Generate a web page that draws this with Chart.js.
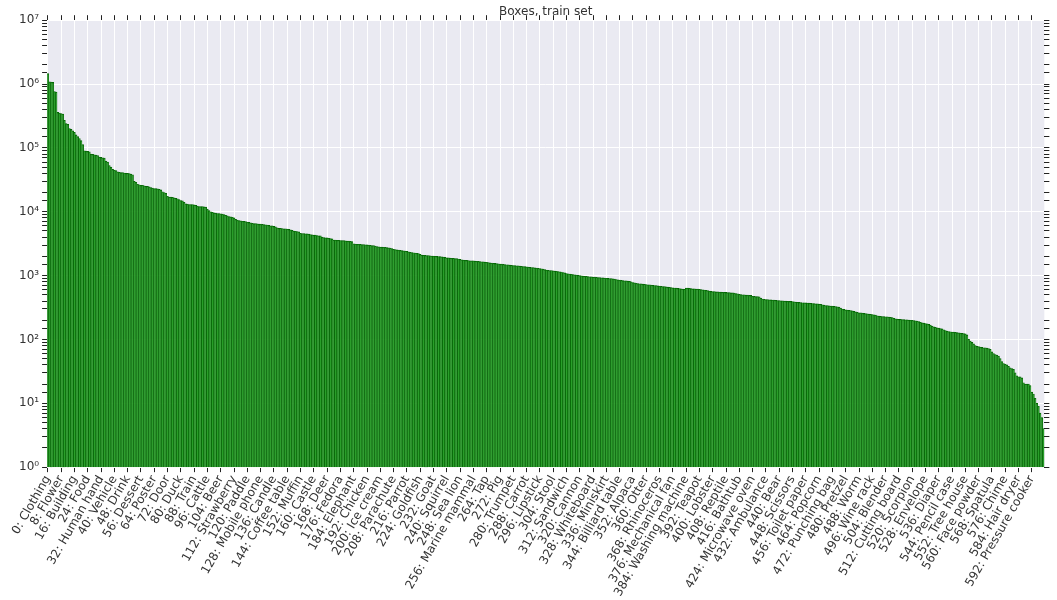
<!DOCTYPE html>
<html><head><meta charset="utf-8">
<script src="https://cdn.jsdelivr.net/npm/chart.js@4/dist/chart.umd.min.js"></script>
<style>html,body{margin:0;padding:0;background:#fff}#w{width:1057px;height:600px}</style>
</head><body><div id="w"><canvas id="c"></canvas></div>
<script>
const namedTicks = {0:"Clothing",8:"Flower",16:"Building",24:"Food",32:"Human hand",40:"Vehicle",48:"Drink",56:"Dessert",64:"Poster",72:"Door",80:"Duck",88:"Train",96:"Cattle",104:"Beer",112:"Strawberry",120:"Paddle",128:"Mobile phone",136:"Candle",144:"Coffee table",152:"Muffin",160:"Castle",168:"Deer",176:"Fedora",184:"Elephant",192:"Chicken",200:"Ice cream",208:"Parachute",216:"Parrot",224:"Goldfish",232:"Goat",240:"Squirrel",248:"Sea lion",256:"Marine mammal",264:"Tap",272:"Pig",280:"Trumpet",288:"Carrot",296:"Lipstick",304:"Stool",312:"Sandwich",320:"Cannon",328:"Whiteboard",336:"Miniskirt",344:"Billiard table",352:"Alpaca",360:"Otter",368:"Rhinoceros",376:"Mechanical fan",384:"Washing machine",392:"Teapot",400:"Lobster",408:"Reptile",416:"Bathtub",424:"Microwave oven",432:"Ambulance",440:"Bear",448:"Scissors",456:"Toilet paper",464:"Popcorn",472:"Punching bag",480:"Pretzel",488:"Worm",496:"Wine rack",504:"Blender",512:"Cutting board",520:"Scorpion",528:"Envelope",536:"Diaper",544:"Pencil case",552:"Tree house",560:"Face powder",568:"Spatula",576:"Chime",584:"Hair dryer",592:"Pressure cooker"};
const boxCounts = [
1460000,1080000,1070000,1060000,760000,750000,360000,350000,
345000,340000,270000,240000,235000,200000,195000,185000,
175000,160000,150000,140000,130000,113000,90000,89000,
88000,87000,80000,79000,78000,77000,76000,72000,
71000,70000,69000,62000,60000,53000,50000,46000,
45000,44000,42000,41500,41000,41000,40500,40000,
40000,39500,39000,38000,30000,29000,27000,26500,
26000,26000,25500,25000,25000,24500,24000,23500,
23000,23000,22800,22500,22000,20500,20000,19500,
17500,17000,17000,16800,16500,16200,16000,15500,
15000,14800,14000,13300,13200,13000,13000,12900,
12800,12600,12300,12100,12000,12000,11900,11800,
11000,10400,10000,9800,9600,9500,9400,9400,
9300,9200,9000,8800,8600,8400,8300,8200,
8000,7600,7400,7300,7200,7100,7100,7000,
6900,6800,6700,6600,6500,6500,6450,6400,
6400,6350,6300,6250,6200,6100,6000,6000,
5900,5800,5600,5500,5500,5450,5400,5400,
5350,5300,5200,5100,5000,4950,4900,4850,
4600,4550,4550,4500,4500,4450,4400,4350,
4300,4300,4250,4200,4200,4000,3950,3900,
3900,3850,3800,3750,3600,3600,3580,3570,
3550,3540,3520,3500,3480,3460,3440,3400,
3150,3120,3100,3100,3080,3060,3050,3040,
3020,3000,2980,2960,2940,2900,2850,2820,
2800,2790,2780,2760,2740,2720,2700,2650,
2580,2550,2530,2500,2480,2460,2440,2420,
2400,2350,2320,2300,2280,2260,2240,2220,
2150,2100,2080,2070,2060,2050,2040,2030,
2020,2010,2000,1990,1980,1970,1950,1930,
1900,1890,1880,1870,1860,1850,1840,1820,
1800,1770,1750,1740,1730,1720,1710,1700,
1700,1690,1680,1670,1660,1650,1640,1630,
1620,1600,1580,1570,1560,1550,1540,1530,
1520,1510,1500,1490,1480,1470,1460,1450,
1440,1430,1420,1420,1410,1400,1390,1380,
1370,1360,1350,1340,1330,1320,1310,1300,
1290,1280,1260,1240,1220,1210,1200,1200,
1190,1180,1170,1160,1150,1140,1120,1100,
1080,1070,1060,1050,1040,1030,1020,1010,
1000,990,980,975,970,965,960,955,
950,945,940,935,930,925,920,915,
910,905,900,895,890,880,870,860,
850,840,835,830,825,820,810,800,
780,770,760,750,745,740,735,730,
725,720,715,710,705,700,695,690,
685,680,675,670,665,660,655,650,
645,640,635,630,625,620,615,610,
640,635,630,625,620,620,615,615,
610,605,600,595,590,580,570,565,
560,560,555,555,550,550,548,545,
545,540,540,535,535,530,525,520,
510,505,500,500,495,495,490,490,
475,472,470,468,465,445,430,425,
422,420,418,416,414,412,410,408,
406,404,402,400,398,396,395,394,
392,390,385,382,380,378,376,375,
374,372,370,368,366,364,362,360,
358,355,350,345,340,338,336,334,
332,330,328,325,320,310,300,295,
290,288,286,284,280,275,270,265,
262,260,258,256,254,252,250,248,
246,244,240,235,232,230,229,228,
227,226,225,222,220,215,210,208,
207,206,205,204,203,202,201,200,
200,198,196,194,190,185,182,180,
178,176,172,168,162,158,155,152,
150,148,146,142,138,135,133,132,
131,130,129,128,127,126,125,124,
122,118,100,94,90,85,80,78,
77,76,75,74,74,73,72,70,
64,60,58,57,55,50,45,42,
41,40,38,36,35,34,30,27,
26,26,25,21,20,20,20,19,
15,14,12,10,9,7,6,4
];
const categories = boxCounts.map((_, i) => namedTicks[i] !== undefined ? i + ": " + namedTicks[i] : String(i));
const titleText = "Boxes, train set";

const sup = {"0":"⁰","1":"¹","2":"²","3":"³","4":"⁴","5":"⁵","6":"⁶","7":"⁷"};
const isDecade = v => { const l = Math.log10(v); return Math.abs(l - Math.round(l)) < 1e-9; };
const font = {family: "'DejaVu Sans'", size: 12};
const xTickShown = i => i % 8 === 0;

new Chart(document.getElementById('c'), {
  type: 'bar',
  data: {labels: categories, datasets: [{data: boxCounts, backgroundColor: '#25a025', borderColor: '#005f00', borderWidth: 0.7, barPercentage: 1, categoryPercentage: 1}]},
  options: {
    responsive: true, maintainAspectRatio: false, animation: false,
    layout: {padding: {left: 16, right: 0, top: 14, bottom: 0}},
    plugins: {
      legend: {display: false}, tooltip: {enabled: false},
      title: {display: false}
    },
    scales: {
      x: {
        type: 'category', position: 'bottom', offset: true,
        grid: {offset: false, color: c => xTickShown(c.index) ? '#ffffff' : 'rgba(0,0,0,0)', tickColor: c => xTickShown(c.index) ? '#222' : 'rgba(0,0,0,0)', tickLength: 5, lineWidth: 1},
        border: {display: false},
        ticks: {autoSkip: false, maxRotation: 60, minRotation: 60, color: '#333', font, padding: 1, callback: (v, i) => xTickShown(i) ? categories[i] : ''}
      },
      x2: {
        type: 'category', position: 'top', labels: categories, offset: true,
        grid: {offset: false, drawOnChartArea: false, color: c => xTickShown(c.index) ? '#222' : 'rgba(0,0,0,0)', tickLength: 5},
        border: {display: false},
        ticks: {autoSkip: false, display: true, callback: () => '', font: {size: 1}, padding: 0}
      },
      y: {
        type: 'logarithmic', min: 1, max: 1e7, position: 'left',
        grid: {color: c => isDecade(c.tick.value) ? '#ffffff' : 'rgba(0,0,0,0)', tickColor: '#222', tickLength: 5},
        border: {display: false},
        ticks: {autoSkip: false, color: '#333', font, padding: 3, callback: v => isDecade(v) ? '10' + sup[String(Math.round(Math.log10(v)))] : ''}
      },
      y2: {
        type: 'logarithmic', min: 1, max: 1e7, position: 'right',
        grid: {drawOnChartArea: false, tickColor: '#222', tickLength: 5},
        border: {display: false},
        ticks: {autoSkip: false, callback: () => '', padding: 0}
      }
    }
  },
  plugins: [{
    id: 'bg',
    beforeDraw(chart) {
      const {ctx, chartArea: a} = chart;
      ctx.save(); ctx.fillStyle = '#eaeaf2'; ctx.fillRect(a.left, a.top, a.right - a.left, a.bottom - a.top); ctx.restore();
    },
    afterDraw(chart) {
      const {ctx, chartArea: a} = chart;
      ctx.save(); ctx.fillStyle = '#333'; ctx.font = "12px 'DejaVu Sans'"; ctx.textAlign = 'center'; ctx.textBaseline = 'middle';
      ctx.fillText(titleText, (a.left + a.right) / 2, 12); ctx.restore();
    }
  }]
});
</script></body></html>
